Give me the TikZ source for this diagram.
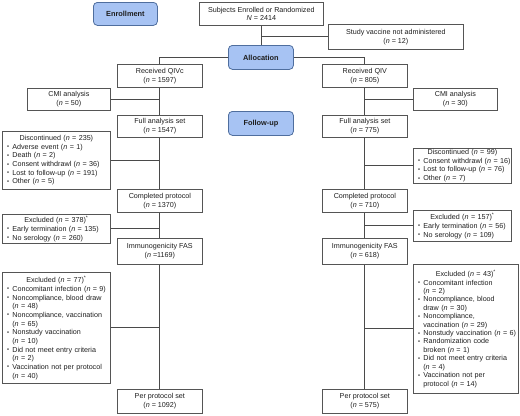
\documentclass[tikz,border=0pt]{standalone}
\usepackage{fontspec}
\setmainfont{Liberation Sans}
\definecolor{boxgray}{HTML}{555555}
\definecolor{linegray}{HTML}{4A4A4A}
\definecolor{txt}{HTML}{1E1E1E}
\definecolor{phase}{HTML}{A7C3F3}
\definecolor{phaseborder}{HTML}{4F6E9E}
\newcommand\li[1]{\mbox{\makebox[6.5bp][l]{\hspace{1.2bp}\raisebox{0.4bp}{\scalebox{0.8}{•}}}#1}}
\newcommand\lc[1]{\mbox{\hspace*{6.5bp}#1}}
\newcommand\nn{\textit{n}}
\begin{document}
\begin{tikzpicture}[x=1bp,y=-1bp,
  base/.style={draw=boxgray, line width=0.7bp, inner xsep=3bp, inner ysep=1bp, anchor=north west,
    font=\fontsize{7.2}{8.7}\selectfont, text=txt},
  cbox/.style={base, align=center},
  lbox/.style={base},
  phasebox/.style={base, rounded corners=4bp, fill=phase, draw=phaseborder, line width=0.8bp,
    font=\fontsize{7.4}{8.7}\selectfont\bfseries, align=center},
  link/.style={draw=linegray, line width=1.1bp},
]
\path[use as bounding box] (0,0) rectangle (520,415);

% phase labels
\node[phasebox, minimum width=64bp, minimum height=23bp] (enr) at (93,2) {Enrollment};
\node[phasebox, minimum width=65bp, minimum height=24bp] (alloc) at (228,45) {Allocation};
\node[phasebox, minimum width=65bp, minimum height=24bp] (fu) at (228,111) {Follow-up};

% top
\node[cbox, minimum width=124bp, minimum height=23bp] (subj) at (199,2) {Subjects Enrolled or Randomized\\\textit{N} = 2414};
\node[cbox, minimum width=135bp, minimum height=25bp] (svna) at (328,24) {Study vaccine not administered\\(\nn{} = 12)};

% left column
\node[cbox, minimum width=85bp, minimum height=23bp] (qivc) at (117,64) {Received QIVc\\(\nn{} = 1597)};
\node[cbox, minimum width=85bp, minimum height=22bp] (fasL) at (117,115) {Full analysis set\\(\nn{} = 1547)};
\node[cbox, minimum width=85bp, minimum height=23bp] (compL) at (117,189) {Completed protocol\\(\nn{} = 1370)};
\node[cbox, minimum width=85bp, minimum height=26bp] (immL) at (117,238) {Immunogenicity FAS\\(\nn{} =1169)};
\node[cbox, minimum width=85bp, minimum height=24bp] (ppL) at (117,389) {Per protocol set\\(\nn{} = 1092)};

% right column
\node[cbox, minimum width=85bp, minimum height=23bp] (qiv) at (322,64) {Received QIV\\(\nn{} = 805)};
\node[cbox, minimum width=85bp, minimum height=22bp] (fasR) at (322,115) {Full analysis set\\(\nn{} = 775)};
\node[cbox, minimum width=85bp, minimum height=23bp] (compR) at (322,189) {Completed protocol\\(\nn{} = 710)};
\node[cbox, minimum width=85bp, minimum height=26bp] (immR) at (322,238) {Immunogenicity FAS\\(\nn{} = 618)};
\node[cbox, minimum width=85bp, minimum height=24bp] (ppR) at (322,389) {Per protocol set\\(\nn{} = 575)};

% left side boxes
\node[cbox, minimum width=83bp, minimum height=22bp] (cmiL) at (27,88) {CMI analysis\\(\nn{} = 50)};
\node[lbox, text width=101bp, minimum width=108bp, minimum height=58bp] (discL) at (2,131) {\centering Discontinued (\nn{} = 235)\par\raggedright
\li{Adverse event (\nn{} = 1)}\\
\li{Death (\nn{} = 2)}\\
\li{Consent withdrawl (\nn{} = 36)}\\
\li{Lost to follow-up (\nn{} = 191)}\\
\li{Other (\nn{} = 5)}};
\node[lbox, text width=101bp, minimum width=108bp, minimum height=29bp] (exL1) at (2,214) {\centering Excluded (\nn{} = 378)\textsuperscript{*}\par\raggedright
\li{Early termination (\nn{} = 135)}\\
\li{No serology (\nn{} = 260)}};
\node[lbox, text width=101bp, minimum width=108bp, minimum height=111bp] (exL2) at (2,272) {\centering Excluded (\nn{} = 77)\textsuperscript{*}\par\raggedright
\li{Concomitant infection (\nn{} = 9)}\\
\li{Noncompliance, blood draw}\\
\lc{(\nn{} = 48)}\\
\li{Noncompliance, vaccination}\\
\lc{(\nn{} = 65)}\\
\li{Nonstudy vaccination}\\
\lc{(\nn{} = 10)}\\
\li{Did not meet entry criteria}\\
\lc{(\nn{} = 2)}\\
\li{Vaccination not per protocol}\\
\lc{(\nn{} = 40)}};

% right side boxes
\node[cbox, minimum width=84bp, minimum height=22bp] (cmiR) at (413,88) {CMI analysis\\(\nn{} = 30)};
\node[lbox, text width=91bp, minimum width=98bp, minimum height=33bp] (discR) at (413,148) {\centering Discontinued (\nn{} = 99)\par\raggedright
\li{Consent withdrawl (\nn{} = 16)}\\
\li{Lost to follow-up (\nn{} = 76)}\\
\li{Other (\nn{} = 7)}};
\node[lbox, text width=91bp, minimum width=98bp, minimum height=31bp] (exR1) at (413,210) {\centering Excluded (\nn{} = 157)\textsuperscript{*}\par\raggedright
\li{Early termination (\nn{} = 56)}\\
\li{No serology (\nn{} = 109)}};
\node[lbox, text width=98bp, minimum width=105bp, minimum height=129bp,
  font=\fontsize{7.2}{8.45}\selectfont] (exR2) at (413,264) {\centering Excluded (\nn{} = 43)\textsuperscript{*}\par\raggedright
\li{Concomitant infection}\\
\lc{(\nn{} = 2)}\\
\li{Noncompliance, blood}\\
\lc{draw (\nn{} = 30)}\\
\li{Noncompliance,}\\
\lc{vaccination (\nn{} = 29)}\\
\li{Nonstudy vaccination (\nn{} = 6)}\\
\li{Randomization code}\\
\lc{broken (\nn{} = 1)}\\
\li{Did not meet entry criteria}\\
\lc{(\nn{} = 4)}\\
\li{Vaccination not per}\\
\lc{protocol (\nn{} = 14)}};

% connectors
\draw[link] (subj.south) -- (subj.south |- alloc.north);
\draw[link] (svna.west) -- (svna.west -| subj.south);
\draw[link] (alloc.west) -| (qivc.north);
\draw[link] (alloc.east) -| (qiv.north);
\draw[link] (qivc.south) -- (fasL.north);
\draw[link] (fasL.south) -- (compL.north);
\draw[link] (compL.south) -- (immL.north);
\draw[link] (immL.south) -- (ppL.north);
\draw[link] (qiv.south) -- (fasR.north);
\draw[link] (fasR.south) -- (compR.north);
\draw[link] (compR.south) -- (immR.north);
\draw[link] (immR.south) -- (ppR.north);
\draw[link] (cmiL.east) -- (cmiL.east -| qivc.south);
\draw[link] (discL.east) -- (discL.east -| qivc.south);
\draw[link] (exL1.east) -- (exL1.east -| qivc.south);
\draw[link] (exL2.east) -- (exL2.east -| qivc.south);
\draw[link] (cmiR.west) -- (cmiR.west -| qiv.south);
\draw[link] (discR.west) -- (discR.west -| qiv.south);
\draw[link] (exR1.west) -- (exR1.west -| qiv.south);
\draw[link] (exR2.west) -- (exR2.west -| qiv.south);
\end{tikzpicture}
\end{document}
